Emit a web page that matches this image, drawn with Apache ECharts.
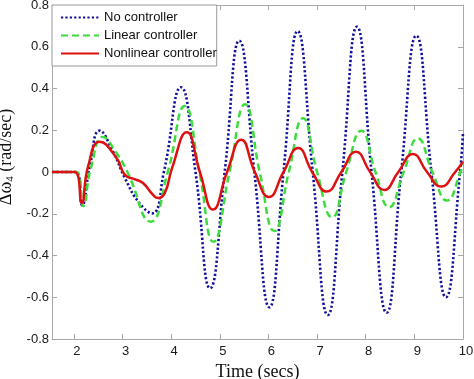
<!DOCTYPE html>
<html><head><meta charset="utf-8">
<script src="https://cdn.jsdelivr.net/npm/echarts@6/dist/echarts.min.js"></script>
<style>html,body{margin:0;padding:0;background:#fff}#c{width:474px;height:379px}</style>
</head><body><div id="c"></div>
<script>
// ---- data ----
const xTicks = [2, 3, 4, 5, 6, 7, 8, 9, 10];
const seriesNames = ['No controller', 'Linear controller', 'Nonlinear controller'];

const noCtrlT = [1.55, 2.05, 2.17, 2.33, 2.53, 2.8, 3.05, 3.35, 3.61, 3.85, 4.2, 4.5, 4.8, 5.1, 5.4, 5.71, 6.02, 6.31, 6.6, 6.91, 7.22, 7.52, 7.82, 8.12, 8.43, 8.73, 9.04, 9.35, 9.65, 9.94, 10];
const noCtrlV = [0, 0, -0.16, 0.03, 0.198, 0.1, -0.03, -0.15, -0.198, 0.0, 0.406, 0.0, -0.557, 0.0, 0.629, 0.0, -0.648, 0.0, 0.675, 0.0, -0.685, 0.0, 0.696, 0.0, -0.674, 0.0, 0.653, 0.0, -0.6, 0.0, 0.188];

const linT = [1.55, 2.05, 2.19, 2.35, 2.6, 2.85, 3.1, 3.58, 3.93, 4.28, 4.58, 4.87, 5.2, 5.52, 5.82, 6.12, 6.42, 6.71, 7.0, 7.31, 7.6, 7.91, 8.2, 8.48, 8.78, 9.07, 9.37, 9.67, 9.95, 10];
const linV = [0, 0, -0.163, 0.02, 0.168, 0.1, 0.0, -0.238, 0.0, 0.316, 0.0, -0.334, 0.0, 0.324, 0.0, -0.283, 0.0, 0.257, 0.0, -0.217, 0.0, 0.198, 0.0, -0.169, 0.0, 0.161, 0.0, -0.137, 0.0, 0.043];

const nonlinT = [1.55, 2.02, 2.16, 2.29, 2.53, 2.88, 3.05, 3.26, 3.42, 3.63, 3.73, 3.87, 4.02, 4.32, 4.59, 4.86, 5.15, 5.44, 5.72, 6.01, 6.31, 6.61, 6.9, 7.2, 7.5, 7.8, 8.09, 8.38, 8.67, 8.97, 9.26, 9.55, 9.84, 10];
const nonlinV = [0, 0, -0.149, 0.025, 0.145, 0.066, -0.014, -0.035, -0.053, -0.11, -0.125, -0.1, 0.02, 0.19, 0.0, -0.18, 0.0, 0.155, 0.0, -0.12, 0.0, 0.115, 0.0, -0.094, 0.0, 0.097, 0.0, -0.086, 0.0, 0.086, 0.0, -0.07, 0.0, 0.05];

const pair = (t, v) => t.map((x, i) => [x, v[i]]);

const axisCol = '#a8a8a8';
const labelFont = {color: '#1a1a1a', fontSize: 13, fontFamily: 'Liberation Sans, Arial, sans-serif'};

const chart = echarts.init(document.getElementById('c'), null, {renderer: 'canvas'});
chart.setOption({
  animation: false,
  backgroundColor: '#fff',
  grid: {left: 52, right: 11, top: 5, bottom: 40, containLabel: false, outerBoundsMode: 'none'},
  legend: {
    orient: 'vertical', left: 52, top: 5,
    data: seriesNames,
    itemWidth: 38, itemHeight: 12, itemGap: 5,
    padding: [6, 0, 6, 8],
    itemStyle: {opacity: 0, color: 'rgba(0,0,0,0)', borderWidth: 0},
    backgroundColor: '#fff', borderColor: '#999', borderWidth: 1,
    textStyle: {color: '#111', fontSize: 13, fontFamily: 'Liberation Sans, Arial, sans-serif'}
  },
  xAxis: [{
    type: 'value', min: 1.55, max: 10, position: 'bottom',
    axisLine: {onZero: false, lineStyle: {color: axisCol, width: 1}},
    axisTick: {inside: true, length: 5, customValues: xTicks, lineStyle: {color: axisCol}},
    axisLabel: {customValues: xTicks, margin: 6, padding: [0, 0, 0, 6], ...labelFont},
    splitLine: {show: false},
    name: 'Time (secs)', nameLocation: 'middle', nameGap: 20,
    nameTextStyle: {fontFamily: 'Liberation Serif, Times New Roman, serif', fontSize: 18, color: '#111'}
  }, {
    type: 'value', min: 1.55, max: 10, position: 'top',
    axisLine: {onZero: false, lineStyle: {color: axisCol, width: 1}},
    axisTick: {inside: true, length: 5, customValues: xTicks, lineStyle: {color: axisCol}},
    axisLabel: {show: false}, splitLine: {show: false}
  }],
  yAxis: [{
    type: 'value', min: -0.8, max: 0.8, interval: 0.2, position: 'left',
    axisLine: {show: true, onZero: false, lineStyle: {color: axisCol, width: 1}},
    axisTick: {show: true, inside: true, length: 5, lineStyle: {color: axisCol}},
    axisLabel: {margin: 3, formatter: v => (Math.abs(v) < 1e-9 ? '0' : (+v.toFixed(1)).toString()), ...labelFont},
    splitLine: {show: false},
    name: '{a|Δω}{s|4}{a| (rad/sec)}', nameLocation: 'middle', nameGap: 33, nameRotate: 90,
    nameTextStyle: {
      padding: [0, 0, 0, 30],
      rich: {
        a: {fontFamily: 'Liberation Serif, Times New Roman, serif', fontSize: 18, color: '#111'},
        s: {fontFamily: 'Liberation Serif, Times New Roman, serif', fontSize: 11, color: '#111', padding: [8, 0, 0, 0]}
      }
    }
  }, {
    type: 'value', min: -0.8, max: 0.8, interval: 0.2, position: 'right',
    axisLine: {show: true, onZero: false, lineStyle: {color: axisCol, width: 1}},
    axisTick: {show: true, inside: true, length: 5, lineStyle: {color: axisCol}},
    axisLabel: {show: false}, splitLine: {show: false}
  }],
  series: [{
    name: seriesNames[0], type: 'line', data: pair(noCtrlT, noCtrlV),
    smooth: 0.5, symbol: 'none', xAxisIndex: 0, yAxisIndex: 0,
    lineStyle: {color: '#10109a', width: 2.6, type: [2.2, 2.2]}, itemStyle: {color: '#10109a'}
  }, {
    name: seriesNames[1], type: 'line', data: pair(linT, linV),
    smooth: 0.5, symbol: 'none',
    lineStyle: {color: '#3ddc3d', width: 2.5, type: [7, 4]}, itemStyle: {color: '#3ddc3d'}
  }, {
    name: seriesNames[2], type: 'line', data: pair(nonlinT, nonlinV),
    smooth: 0.5, symbol: 'none',
    lineStyle: {color: '#dd1111', width: 2.5, type: 'solid'}, itemStyle: {color: '#dd1111'}
  }]
});
</script>
</body></html>
